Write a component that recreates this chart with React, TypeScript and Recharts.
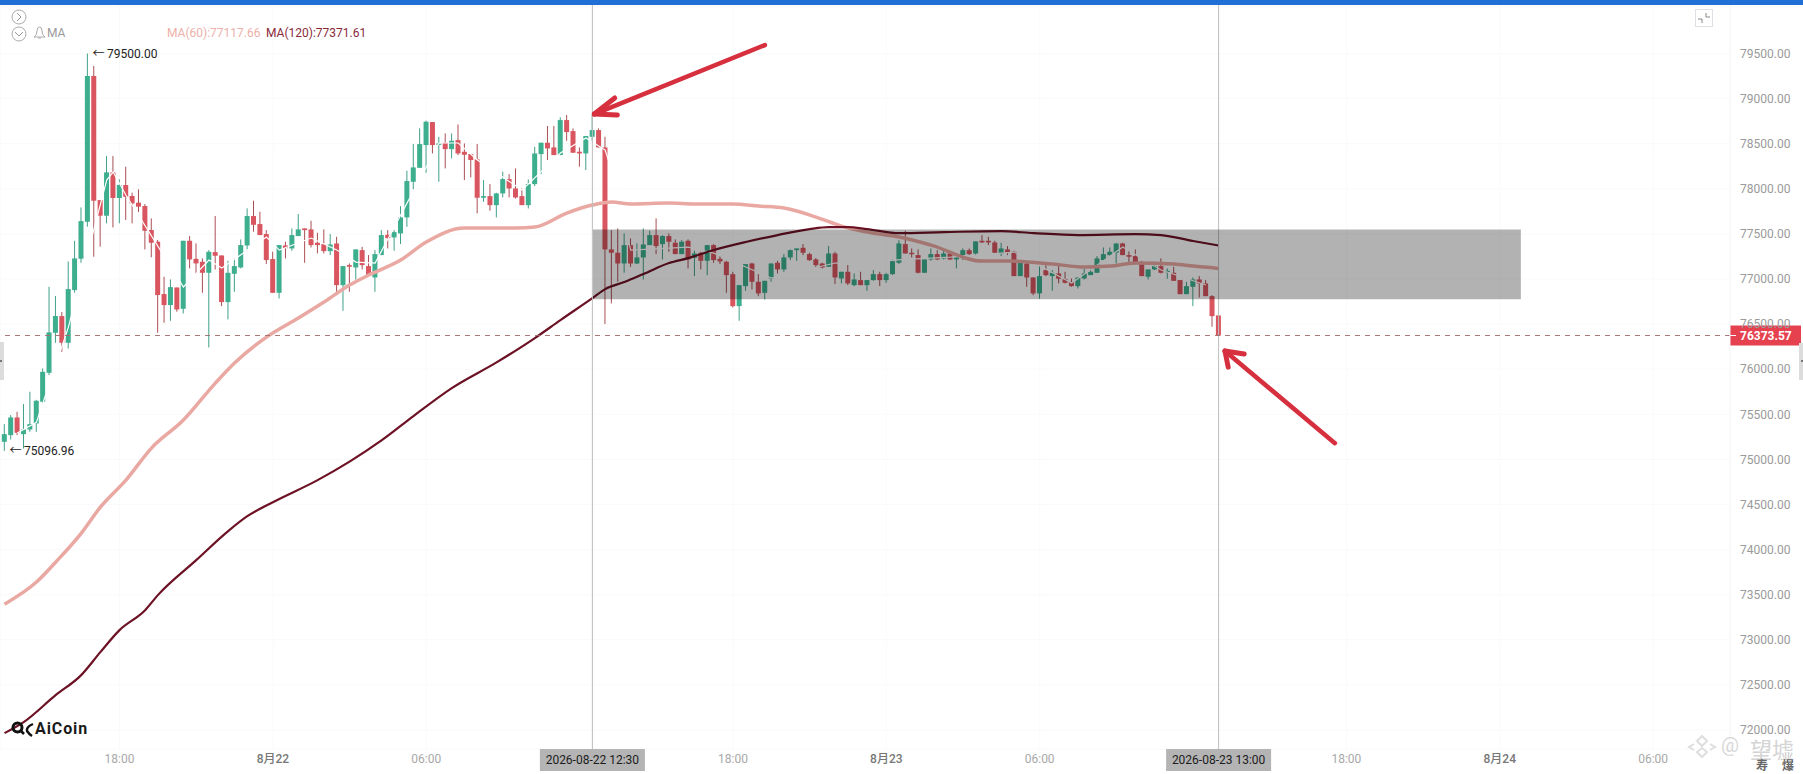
import React from 'react';
import { ComposedChart, Bar, Line, XAxis, YAxis, CartesianGrid, ReferenceLine, ReferenceArea, ReferenceDot } from 'recharts';

const opens = [
75195,75269,75465,75280,75332,75398,75639,75960,76404,76589,
76293,76877,77225,77635,79251,77875,77702,78182,77898,78042,
77920,77846,77809,77543,77413,76833,76711,76906,76670,77424,
77224,77191,77069,77298,77261,76744,77058,77128,77372,77698,
77609,77498,77221,76847,77372,77339,77476,77561,77550,77402,
77387,77309,77394,76932,77154,77128,77320,77143,77017,77265,
77490,77461,77505,77683,78078,78233,78485,78740,78489,78511,
78440,78540,78411,78385,78326,77901,77919,77819,77949,78108,
78004,77919,77819,78052,78385,78511,78459,78374,78762,78640,
78411,78392,78577,78651,78459,77328,77291,77172,77376,77172,
77239,77376,77487,77387,77476,77402,77276,77424,77235,77291,
77202,77376,77224,77191,77054,76699,76921,77172,76969,76847,
77006,77180,77106,77239,77320,77346,77276,77217,77172,77135,
77283,77006,77080,76932,76988,76932,76988,77054,76988,77054,
77180,77387,77291,77265,77069,77217,77276,77228,77283,77217,
77265,77320,77283,77424,77424,77405,77283,77328,77302,77032,
77172,77017,76840,77099,77032,77062,76999,76969,76921,77006,
77043,77069,77210,77265,77291,77394,77265,77254,77180,77025,
77106,77143,77080,77069,76988,76832,76914,76995,76951,76810,
76596];
const highs = [
75391,75491,75528,75613,75750,75660,76008,76914,76811,76633,
77195,77424,77794,79500,79362,77875,78363,78363,78105,78245,
77957,77994,77831,77672,77432,77025,76995,76906,77424,77476,
77395,77228,77320,77698,77261,77202,77228,77439,77783,77868,
77746,77542,77302,77376,77413,77561,77720,77561,77646,77513,
77550,77498,77468,77143,77173,77328,77357,77265,77320,77542,
77542,77542,77808,78200,78496,78670,78755,78740,78577,78614,
78614,78714,78503,78392,78496,78097,78052,77956,78189,78163,
78226,78004,78104,78466,78511,78696,78696,78792,78818,78670,
78459,78585,78818,78670,78577,77542,77561,77505,77450,77394,
77561,77535,77672,77487,77505,77439,77431,77439,77313,77302,
77376,77387,77254,77202,77080,76932,77165,77180,77054,76980,
77172,77202,77276,77328,77339,77387,77291,77232,77180,77365,
77302,77080,77154,77062,77080,76988,77098,77080,77069,77217,
77430,77535,77339,77328,77217,77339,77320,77328,77313,77239,
77339,77339,77417,77487,77468,77424,77402,77365,77313,77180,
77180,77017,77143,77154,77099,77154,77080,77006,77017,77117,
77117,77254,77350,77350,77394,77402,77313,77328,77202,77106,
77191,77228,77117,77136,76988,76969,77017,77032,76988,76821,
76596];
const lows = [
75095,75221,75269,75121,75306,75306,75620,75935,76293,76193,
76230,76848,77180,77580,77247,77358,77617,77572,77617,77654,
77617,77742,77328,77240,76404,76515,76537,76637,76618,77117,
77054,76847,76241,77106,76699,76552,76858,77117,77328,77524,
77487,77165,76847,76784,77228,77313,77476,77180,77350,77284,
77284,77265,76858,76648,76858,76995,77106,77032,76858,77265,
77339,77313,77387,77579,77993,78233,78178,78392,78078,78226,
78337,78374,78097,78126,77727,77856,77757,77683,77905,77905,
77893,77819,77782,78030,78163,78319,78374,78374,78533,78400,
78245,78208,78522,78459,76500,76729,76969,77069,77135,77165,
76995,77376,77276,77217,77302,77276,77276,77117,77032,77106,
77043,77180,77165,76847,76684,76537,76869,76884,76810,76773,
76969,77062,77080,77209,77202,77265,77202,77128,77117,77135,
76943,76951,76932,76921,76932,76869,76980,76921,76958,77043,
77165,77283,77239,77062,77069,77202,77210,77217,77210,77117,
77210,77265,77265,77402,77376,77283,77254,77265,77032,77032,
76914,76821,76781,77032,76869,76951,76951,76914,76895,76995,
77043,77069,77202,77254,77173,77265,77180,77173,77032,76995,
77099,77062,77003,76980,76832,76832,76699,76795,76810,76470,
76373.57];
const closes = [
75280,75465,75295,75332,75391,75650,75971,76408,76589,76293,
76888,77228,77642,79251,77868,77702,78182,77898,78042,77912,
77838,77802,77535,77402,76822,76711,76910,76662,77424,77217,
77173,77069,77302,77258,76744,77069,77143,77376,77698,77601,
77487,77210,76847,77376,77343,77487,77550,77542,77376,77376,
77309,77383,76932,77143,77136,77328,77154,77043,77276,77487,
77453,77520,77683,78086,78237,78496,78744,78485,78503,78440,
78533,78392,78378,78319,77901,77919,77819,77949,78108,78004,
77904,77819,78052,78392,78511,78448,78374,78762,78629,78400,
78392,78585,78651,78459,77328,77291,77172,77376,77172,77239,
77383,77487,77365,77476,77413,77276,77413,77217,77283,77202,
77376,77210,77195,77043,76699,76932,77165,76969,76840,76980,
77172,77106,77239,77320,77339,77291,77209,77154,77128,77283,
77017,77080,76951,76995,76932,76988,77054,76988,77054,77198,
77394,77283,77276,77069,77217,77276,77217,77283,77217,77239,
77320,77276,77417,77405,77405,77291,77339,77291,77032,77180,
77017,76840,77032,77043,77069,77003,76958,76921,77017,77062,
77080,77228,77276,77302,77394,77265,77247,77180,77032,77106,
77143,77069,77091,76980,76832,76921,76995,76951,76810,76588,
76373.57];

const ma60Idx = [0,5,8,12,15,19,23,28,33,36,41,46,50,54,57,62,66,72,80,83,88,92,95,98,104,108,114,118,122,127,131,135,140,145,153,157,164,169,173,177,183,186,190];
const ma60Val = [73395,73640,73860,74180,74470,74770,75125,75436,75846,76068,76356,76567,76744,76933,77044,77210,77410,77565,77565,77576,77731,77820,77853,77831,77842,77831,77831,77809,77787,77687,77587,77520,77465,77376,77199,77199,77166,77132,77143,77177,77166,77143,77117.66];
const ma120Idx = [0,3,8,12,15,18,22,24,30,35,38,42,49,54,59,64,70,77,83,87,92,94,97,100,104,107,111,116,121,126,129,132,135,140,147,156,161,168,177,181,186,190];
const ma120Val = [71965,72087,72386,72608,72863,73107,73328,73495,73883,74205,74370,74525,74770,74975,75210,75480,75790,76075,76345,76544,76788,76888,76966,77055,77177,77232,77321,77410,77487,77554,77576,77576,77554,77509,77520,77531,77509,77487,77498,77487,77421,77371.61];
const whiteIdx = [2,5,10,16,17,19,28,32,34,41,43,48,52,55,58,68,71,74,81,87,91,94,95,98,107,111,120,130,148,158,167,175,181,188];
const whiteVal = [75292,75412,76467,78097,78186,77931,76911,77210,77121,77465,77321,77454,77321,77188,77177,78508,78508,78319,77986,78397,78563,78430,78208,77321,77354,77287,77010,77177,77243,77299,76955,77354,77099,76933];

const xTickIdx = [18,42,66,114,138,162,210,234,258];
const xTickLabels = ['18:00','8月22','06:00','18:00','8月23','06:00','18:00','8月24','06:00'];
const yTicks = [72000,72500,73000,73500,74000,74500,75000,75500,76000,76500,77000,77500,78000,78500,79000,79500];
const crossIdx = [92,190];
const crossLabels = ['2026-08-22 12:30','2026-08-23 13:00'];
const lastPrice = 76373.57;
const maxPoint = { i: 13, v: 79500 };
const minPoint = { i: 0, v: 75096.96 };
const zone = { i1: 92.1, i2: 237.3, top: 77550, bottom: 76775 };
const arrows = [
  { tip: [92.3, 78829], tail: [119, 79594], w1: [95.5, 79007], w2: [95.9, 78818] },
  { tip: [191, 76201], tail: [208.2, 75180], w1: [191.5, 76023], w2: [194, 76168] },
];

const rows = opens.map((o, i) => {
  const a = ma60Idx.indexOf(i), b = ma120Idx.indexOf(i), w = whiteIdx.indexOf(i);
  return {
    i, open: o, high: highs[i], low: lows[i], close: closes[i],
    ma60: a >= 0 ? ma60Val[a] : null,
    ma120: b >= 0 ? ma120Val[b] : null,
    white: w >= 0 ? whiteVal[w] : null,
  };
});

const FONT = 'Roboto, "Noto Sans CJK SC", sans-serif';
const UP = '#3dae8e', DOWN = '#d9555f';

function Candle(props: any) {
  const { x, y, width, height, payload } = props;
  if (!payload) return null;
  const { open, close, high, low } = payload;
  const k = height / (high - low);
  const cx = x + width / 2;
  const up = close >= open;
  const top = y + (high - Math.max(open, close)) * k;
  const h = Math.max(1.4, Math.abs(open - close) * k);
  return (
    <g>
      <line x1={cx} x2={cx} y1={y} y2={y + height} stroke={up ? '#3fa088' : '#ab4f55'} strokeWidth={1} />
      <rect x={cx - 2.5} y={top} width={5} height={h} fill={up ? UP : DOWN} />
    </g>
  );
}

function XTick(props: any) {
  const { x, y, payload } = props;
  const k = xTickIdx.indexOf(payload.value);
  const label = xTickLabels[k] ?? '';
  const isDate = label.includes('月');
  return (
    <text x={x} y={y} dy={6} textAnchor="middle" fontFamily={FONT} fontSize={12}
      fontWeight={isDate ? 500 : 400} fill={isDate ? '#777' : '#a8a8a8'}>{label}</text>
  );
}

function CrossLabel(props: any) {
  const { viewBox, text } = props;
  const cx = viewBox.x;
  const y = viewBox.y + viewBox.height;
  return (
    <g>
      <rect x={cx - 52.5} y={y} width={105} height={22} fill="#b4b4b4" />
      <text x={cx} y={y + 15} textAnchor="middle" fontFamily={FONT} fontSize={12} fill="#1c1c1c">{text}</text>
    </g>
  );
}

function PriceTag(props: any) {
  const { viewBox, text } = props;
  const x = viewBox.x + viewBox.width;
  const y = viewBox.y;
  return (
    <g>
      <rect x={x} y={y - 10} width={71} height={20} fill="#e5414f" />
      <line x1={x} x2={x + 6} y1={y} y2={y} stroke="#fff" strokeWidth={1} />
      <text x={x + 10} y={y + 4.5} fontFamily={FONT} fontSize={12} fontWeight={700} fill="#fff">{text}</text>
    </g>
  );
}

const abs = (s: React.CSSProperties): React.CSSProperties => ({ position: 'absolute', ...s });

export default function App() {
  return (
    <div style={abs({ left: 0, top: 0, width: 1803, height: 774, background: '#fff', overflow: 'hidden', fontFamily: FONT })}>
      <ComposedChart width={1803} height={774} data={rows} margin={{ top: 5, right: 0, bottom: 0, left: 0 }}>
        <CartesianGrid stroke="#fafafa" />
        <XAxis dataKey="i" type="number" domain={[-0.704, 270.03]} allowDataOverflow ticks={xTickIdx} interval={0}
          height={25} axisLine={false} tickLine={false} tick={<XTick />} />
        <YAxis orientation="right" type="number" domain={[71789, 80038]} allowDataOverflow ticks={yTicks} interval={0} width={73}
          axisLine={{ stroke: '#f6f6f6' }} tickLine={false}
          tickFormatter={(v: number) => v.toFixed(2)}
          tick={{ fontFamily: FONT, fontSize: 12, fill: '#9a9a9a', textAnchor: 'start', dx: 2 }} />
        <Bar dataKey={(d: any) => [d.low, d.high]} barSize={6} shape={<Candle />} isAnimationActive={false} activeBar={false} />
        <Line dataKey="white" stroke="#ffffff" strokeWidth={1.2} dot={false} connectNulls isAnimationActive={false} />
        <Line type="monotone" dataKey="ma60" stroke="#eaa8a3" strokeWidth={3.5} dot={false} connectNulls isAnimationActive={false} />
        <Line type="monotone" dataKey="ma120" stroke="#6d1224" strokeWidth={2.2} dot={false} connectNulls isAnimationActive={false} />
        <ReferenceArea x1={zone.i1} x2={zone.i2} y1={zone.top} y2={zone.bottom} fill="#000" fillOpacity={0.3} stroke="none" zIndex={2000} />
        {crossIdx.map((c, k) => (
          <ReferenceLine key={c} x={c} stroke="#bdbdbd" strokeWidth={1} label={<CrossLabel text={crossLabels[k]} />} />
        ))}
        <ReferenceLine y={lastPrice} stroke="#a06a6a" strokeWidth={0.9} strokeDasharray="5 5" label={<PriceTag text={lastPrice.toFixed(2)} />} />
        <ReferenceDot x={maxPoint.i} y={maxPoint.v} r={0} stroke="none"
          label={{ value: '←\u2009' + maxPoint.v.toFixed(2), position: 'right', fontFamily: FONT, fontSize: 12, fill: '#222' }} />
        <ReferenceDot x={minPoint.i} y={minPoint.v} r={0} stroke="none"
          label={{ value: '←\u2009' + minPoint.v.toFixed(2), position: 'right', fontFamily: FONT, fontSize: 12, fill: '#222' }} />
        {arrows.flatMap((a, k) => [a.tail, a.w1, a.w2].map((p, j) => (
          <ReferenceLine key={k + '-' + j} segment={[{ x: a.tip[0], y: a.tip[1] }, { x: p[0], y: p[1] }]}
            stroke="#d62f3e" strokeWidth={j === 0 ? 4.5 : 5} strokeLinecap="round" />
        )))}
      </ComposedChart>

      <div style={abs({ left: 0, top: 0, width: 1803, height: 5, background: '#1f6fd6' })} />

      <svg width={120} height={50} style={abs({ left: 0, top: 0 })}>
        <circle cx={19} cy={17} r={7} fill="none" stroke="#aaa" />
        <path d="M17 13 L21 17 L17 21" fill="none" stroke="#999" />
        <circle cx={19} cy={34} r={7} fill="none" stroke="#aaa" />
        <path d="M15 32 L19 36 L23 32" fill="none" stroke="#999" />
        <path d="M34 37 Q37 35 37 31 Q37 27 39.5 27 Q42 27 42 31 Q42 35 45 37 Z M38 38 H41" fill="none" stroke="#aaa" />
      </svg>
      <div style={abs({ left: 47, top: 26, fontSize: 12, color: '#999' })}>MA</div>
      <div style={abs({ left: 167, top: 26, fontSize: 12, color: '#eeb0aa', whiteSpace: 'nowrap' })}>MA(60):77117.66</div>
      <div style={abs({ left: 266, top: 26, fontSize: 12, color: '#8a2a3a', whiteSpace: 'nowrap' })}>MA(120):77371.61</div>

      <svg width={20} height={20} style={abs({ left: 1695, top: 9 })}>
        <rect x={0.5} y={0.5} width={17} height={17} fill="#fff" stroke="#dde0e4" />
        <path d="M11 4 V8 H15 M3 10 H7 V14" fill="none" stroke="#888" />
      </svg>

      <div style={abs({ left: 0, top: 342, width: 4, height: 38, background: '#dcdcdc' })} />
      <div style={abs({ left: 1799, top: 343, width: 4, height: 37, background: '#dcdcdc' })} />
      <div style={abs({ left: 0, top: 360, width: 2, height: 2, background: '#777' })} />
      <div style={abs({ left: 1801, top: 360, width: 2, height: 2, background: '#777' })} />

      <svg width={30} height={22} style={abs({ left: 8, top: 718 })}>
        <circle cx={9.5} cy={9.5} r={4.5} fill="none" stroke="#111" strokeWidth={3} />
        <path d="M13 13 L16 16" stroke="#111" strokeWidth={2.6} />
        <path d="M25 6 Q18 9 19 13 Q21 16 24 18" fill="none" stroke="#111" strokeWidth={2.4} />
      </svg>
      <div style={abs({ left: 35, top: 719, fontSize: 16, fontWeight: 700, color: '#1a1a1a', letterSpacing: 0.9 })}>AiCoin</div>

      <svg width={34} height={26} style={abs({ left: 1686, top: 733 })}>
        <g fill="none" stroke="#dedede" strokeWidth={2}>
          <path d="M16 3 L21 8 L16 13 L11 8 Z" />
          <path d="M8 11 L3 14 L8 17" />
          <path d="M24 11 L29 14 L24 17" />
          <path d="M16 15 L21 19 L16 24 L11 19 Z" />
        </g>
      </svg>
      <div style={abs({ left: 1721, top: 733, fontSize: 20, color: '#d8d8d8', lineHeight: '24px' })}>@</div>
      <div style={abs({ left: 1750, top: 735, fontSize: 22, color: '#d4d4d4', lineHeight: '26px', whiteSpace: 'nowrap', fontFamily: '"Noto Sans CJK SC"' })}>望墟</div>
      <div style={abs({ left: 1756, top: 758, fontSize: 12, fontWeight: 700, color: '#666', lineHeight: '14px', fontFamily: '"Noto Sans CJK SC"' })}>寿</div>
      <div style={abs({ left: 1782, top: 758, fontSize: 12, fontWeight: 700, color: '#666', lineHeight: '14px', fontFamily: '"Noto Sans CJK SC"' })}>爆</div>
    </div>
  );
}
